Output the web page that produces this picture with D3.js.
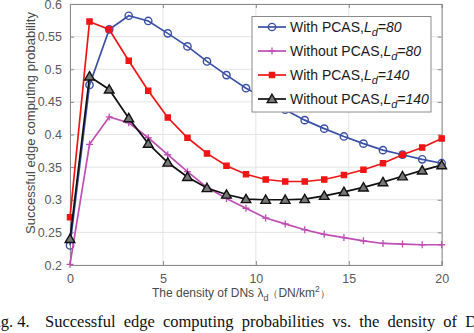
<!DOCTYPE html>
<html><head><meta charset="utf-8">
<script src="https://cdn.jsdelivr.net/npm/d3@7"></script>
<style>body{margin:0;background:#fff;overflow:hidden}svg{display:block}</style>
</head><body><svg id="c" width="474" height="333"></svg>
<script>
const xValues = [0,1.05,2.11,3.16,4.21,5.26,6.32,7.37,8.42,9.47,10.53,11.58,12.63,13.68,14.74,15.79,16.84,17.89,18.95,20];
const withPCAS80 = [0.230,0.476,0.561,0.582,0.574,0.555,0.535,0.512,0.491,0.471,0.455,0.438,0.422,0.409,0.397,0.386,0.376,0.369,0.362,0.356];
const withoutPCAS80 = [0.201,0.385,0.427,0.418,0.395,0.369,0.343,0.319,0.302,0.287,0.272,0.263,0.254,0.247,0.242,0.237,0.233,0.232,0.231,0.231];
const withPCAS140 = [0.273,0.573,0.561,0.513,0.467,0.426,0.395,0.371,0.352,0.339,0.331,0.328,0.328,0.331,0.338,0.346,0.356,0.369,0.380,0.394];
const withoutPCAS140 = [0.240,0.489,0.469,0.425,0.386,0.357,0.335,0.318,0.308,0.301,0.300,0.300,0.301,0.306,0.312,0.319,0.327,0.336,0.345,0.353];
const xTicks = [0,5,10,15,20];
const yTicks = [0.2,0.25,0.3,0.35,0.4,0.45,0.5,0.55,0.6];
const seriesNames = ["With PCAS,", "Without PCAS,", "With PCAS,", "Without PCAS,"];
const seriesLd = ["=80", "=80", "=140", "=140"];

const series = [
  {vals: withPCAS80, color: "#3a50a8", marker: "circle"},
  {vals: withoutPCAS80, color: "#c04eb4", marker: "plus"},
  {vals: withPCAS140, color: "#f01515", marker: "square"},
  {vals: withoutPCAS140, color: "#111111", marker: "triangle"}
];

const svg = d3.select("#c");
const L = 70, R = 441.7, T = 4, B = 265;
const x = d3.scaleLinear().domain([0,20]).range([L,R]);
const y = d3.scaleLinear().domain([0.2,0.6]).range([B,T]);
const tickFont = "'Liberation Sans', Arial, sans-serif";

// grid
const g = svg.append("g");
g.selectAll(".gy").data(yTicks).enter().append("line")
  .attr("x1", L).attr("x2", R).attr("y1", d=>y(d)).attr("y2", d=>y(d))
  .attr("stroke", "#e4e4e4").attr("stroke-width", 1);
g.selectAll(".gx").data(xTicks).enter().append("line")
  .attr("y1", T).attr("y2", B).attr("x1", d=>x(d)).attr("x2", d=>x(d))
  .attr("stroke", "#e4e4e4").attr("stroke-width", 1);

// axes
const ax = svg.append("g").attr("transform", `translate(0,${B})`)
  .call(d3.axisBottom(x).tickValues(xTicks).tickSize(-4).tickPadding(9).tickFormat(d3.format("d")));
const ay = svg.append("g").attr("transform", `translate(${L},0)`)
  .call(d3.axisLeft(y).tickValues(yTicks).tickSize(-4).tickPadding(8).tickFormat(d => d3.format("")(+d.toFixed(2))));
const axTop = svg.append("g").attr("transform", `translate(0,${T})`)
  .call(d3.axisTop(x).tickValues(xTicks).tickSize(-4).tickFormat(""));
const axRight = svg.append("g").attr("transform", `translate(${R},0)`)
  .call(d3.axisRight(y).tickValues(yTicks).tickSize(-4).tickFormat(""));
[ax, ay, axTop, axRight].forEach(a => {
  a.select(".domain").attr("stroke", "#8a8a8a").attr("stroke-width", 1);
  a.selectAll(".tick line").attr("stroke", "#8a8a8a");
  a.selectAll("text").attr("fill", "#5a5a5a").style("font-family", tickFont).style("font-size", "12.5px");
});

// lines & markers
const line = d3.line().x((d,i)=>x(xValues[i])).y(d=>y(d));
const sym = {
  circle: d3.symbol().type(d3.symbolCircle).size(42),
  square: d3.symbol().type(d3.symbolSquare).size(28),
  triangle: d3.symbol().type(d3.symbolTriangle).size(40)
};
function drawMarker(sel, s) {
  if (s.marker === "plus") {
    sel.append("path").attr("d", "M-3.5,0H3.5M0,-3.5V3.5")
      .attr("stroke", s.color).attr("stroke-width", 1.3).attr("fill", "none");
  } else if (s.marker === "circle") {
    sel.append("path").attr("d", sym.circle()).attr("fill", "none")
      .attr("stroke", s.color).attr("stroke-width", 1.4);
  } else if (s.marker === "square") {
    sel.append("path").attr("d", sym.square()).attr("fill", s.color)
      .attr("stroke", s.color).attr("stroke-width", 1.2);
  } else {
    sel.append("path").attr("d", sym.triangle()).attr("fill", "#777")
      .attr("stroke", s.color).attr("stroke-width", 1.4).attr("transform", "translate(0,0.8)");
  }
}
series.forEach(s => {
  svg.append("path").datum(s.vals).attr("d", line).attr("fill", "none")
    .attr("stroke", s.color).attr("stroke-width", 1.7);
  svg.selectAll(null).data(s.vals).enter().append("g")
    .attr("transform", (d,i)=>`translate(${x(xValues[i])},${y(d)})`)
    .each(function(){ drawMarker(d3.select(this), s); });
});

// legend
const lg = svg.append("g");
lg.append("rect").attr("x", 252).attr("y", 16.5).attr("width", 179).attr("height", 95.5)
  .attr("fill", "#fff").attr("stroke", "#8a8a8a").attr("stroke-width", 1);
series.forEach((s, i) => {
  const cy = 27 + i*24;
  lg.append("line").attr("x1", 258).attr("x2", 286).attr("y1", cy).attr("y2", cy)
    .attr("stroke", s.color).attr("stroke-width", 1.7);
  const m = lg.append("g").attr("transform", `translate(272,${cy})`);
  drawMarker(m, s);
  const t = lg.append("text").attr("x", 290).attr("y", cy + 5)
    .style("font-family", tickFont).style("font-size", "14px").attr("fill", "#1a1a1a");
  t.append("tspan").text(seriesNames[i]);
  t.append("tspan").attr("font-style", "italic").text("L");
  t.append("tspan").attr("font-style", "italic").attr("font-size", "11px").attr("dy", 4).text("d");
  t.append("tspan").attr("font-style", "italic").attr("dy", -4).text(seriesLd[i]);
});

// y label
svg.append("text").attr("transform", "translate(35,123) rotate(-90)")
  .attr("text-anchor", "middle").style("font-family", tickFont).style("font-size", "13px")
  .attr("fill", "#4a4a4a").text("Successful edge computing probability");

// x label
const xl = svg.append("text").attr("x", 152).attr("y", 297)
  .style("font-family", tickFont).style("font-size", "12px").attr("fill", "#4a4a4a");
xl.append("tspan").text("The density of DNs λ");
xl.append("tspan").attr("font-size", "9px").attr("dy", 4).text("d");
xl.append("tspan").attr("dy", -4).attr("font-size", "10px").text("（");
xl.append("tspan").text("DN/km");
xl.append("tspan").attr("font-size", "8.5px").attr("dy", -5).text("2");
xl.append("tspan").attr("dy", 5).attr("font-size", "10px").text("）");

// caption
const capFont = "'Liberation Serif', 'Times New Roman', serif";
svg.append("text").attr("x", -13).attr("y", 327).style("font-family", capFont)
  .style("font-size", "16.5px").attr("fill", "#111").text("Fig. 4.");
svg.append("text").attr("x", 45).attr("y", 327).style("font-family", capFont)
  .style("font-size", "16.5px").style("word-spacing", "4px").attr("fill", "#111")
  .text("Successful edge computing probabilities vs. the density of DNs");
</script></body></html>
